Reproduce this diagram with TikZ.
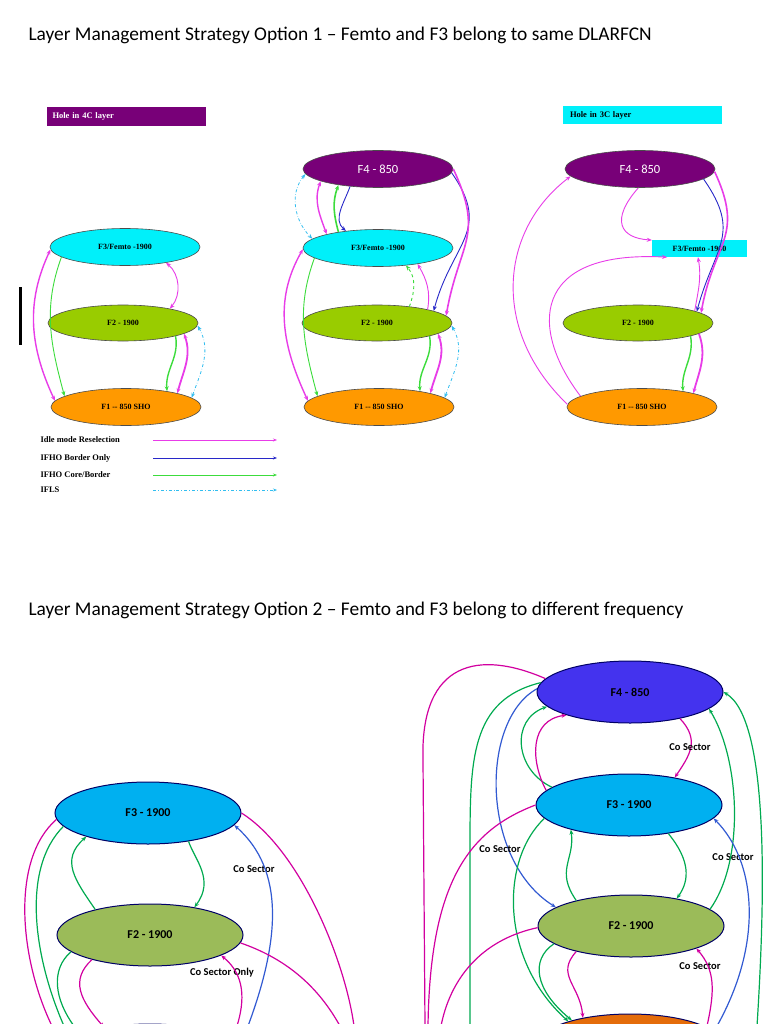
\documentclass[tikz,border=0pt]{standalone}
\usepackage{fontspec}
\setmainfont{Carlito}
\newfontfamily\serifa{Liberation Serif}
\usetikzlibrary{arrows.meta,shapes.geometric}
\definecolor{tmag}{RGB}{232,60,232}
\definecolor{tgrn}{RGB}{60,220,60}
\definecolor{tblu}{RGB}{40,40,200}
\definecolor{tcya}{RGB}{50,190,240}
\definecolor{bmag}{RGB}{210,0,160}
\definecolor{bgrn}{RGB}{0,170,80}
\definecolor{bblu}{RGB}{50,90,210}
\definecolor{purp}{RGB}{120,0,120}
\definecolor{cyanf}{RGB}{0,240,250}
\definecolor{limef}{RGB}{153,204,0}
\definecolor{orgf}{RGB}{255,153,0}
\definecolor{skyf}{RGB}{0,176,240}
\definecolor{oliv}{RGB}{155,187,89}
\definecolor{violf}{RGB}{68,51,238}
\definecolor{orgb}{RGB}{228,108,10}
\tikzset{
  tell/.style={ellipse,draw=black!70,line width=0.6pt,minimum width=150pt,minimum height=37pt,inner sep=0pt,font=\serifa\bfseries\fontsize{8}{9}\selectfont},
  bell/.style={ellipse,draw=blue!40!black,line width=1pt,minimum width=186pt,minimum height=62pt,inner sep=0pt,font=\bfseries\fontsize{12}{14}\selectfont},
  ti/.style={-{Stealth[length=5pt,width=4pt]},line width=0.9pt},
  tb/.style={{Stealth[length=5pt,width=4pt]}-{Stealth[length=5pt,width=4pt]},line width=1.4pt},
  bi/.style={-{Stealth[length=5pt,width=4pt]},line width=1.2pt},
  lab/.style={font=\bfseries\fontsize{10.5}{12}\selectfont},
  dd/.style={dash dot,line width=0.8pt},
  lgt/.style={anchor=west,font=\serifa\bfseries\fontsize{8.5}{9}\selectfont},
  lgl/.style={line width=0.8pt,-{Stealth[length=4pt]}},
  f4t/.style={text=white,font=\fontsize{12.5}{14}\selectfont}
}
\begin{document}
\begin{tikzpicture}[x=1pt,y=-1pt]
\useasboundingbox (0,0) rectangle (768,1024);
\clip (0,0) rectangle (768,1024);
\fill[white] (0,0) rectangle (768,1024);
\node[anchor=west,font=\fontsize{19.4}{22}\selectfont] (t1) at (25,35) {Layer Management Strategy Option 1 -- Femto and F3 belong to same DLARFCN};
\node[anchor=west,font=\fontsize{19.4}{22}\selectfont] (t2) at (25,610) {Layer Management Strategy Option 2 -- Femto and F3 belong to different frequency};
% ---------- top left
\node[fill=purp,minimum width=159pt,minimum height=19pt,inner sep=0pt,text=white,font=\serifa\bfseries\fontsize{8.5}{9}\selectfont,text width=148pt] (h4) at (126.5,116.5) {Hole in 4C layer};
\fill[black] (19,287) rectangle (22,345);
\node[tell,fill=cyanf] (f3a) at (125,247) {F3/Femto -1900};
\node[tell,fill=limef,minimum height=36pt] (f2a) at (123,323) {F2 - 1900};
\node[tell,fill=orgf] (f1a) at (126,407) {F1 -- 850 SHO};
\draw[tb,tmag] (f1a.175) to[out=115,in=245] (f3a.182);
\draw[ti,tgrn] (f3a.189) to[out=250,in=105] (f1a.170);
\draw[tb,tmag,line width=0.9pt] (f3a.-21) to[out=-40,in=50] (f2a.17);
\draw[ti,tgrn,line width=1.4pt] (f2a.-14) to[out=-80,in=95] (f1a.21);
\draw[tb,tmag,line width=1.8pt] (f2a.-10) to[out=-70,in=75] (f1a.15);
\draw[tcya,dd,{Stealth[length=5pt]}-{Stealth[length=5pt]}] (f2a.-2) to[out=-60,in=70] (f1a.8);
% legend
\node[lgt] (lg1) at (37,440) {Idle mode Reselection};
\node[lgt] (lg2) at (37,458) {IFHO Border Only};
\node[lgt] (lg3) at (37,475) {IFHO Core/Border};
\node[lgt] (lg4) at (37,490) {IFLS};
\coordinate (la1) at (153,440); \coordinate (lb1) at (277,440);
\coordinate (la2) at (153,458); \coordinate (lb2) at (277,458);
\coordinate (la3) at (153,475); \coordinate (lb3) at (277,475);
\coordinate (la4) at (153,490); \coordinate (lb4) at (277,490);
\draw[lgl,tmag] (la1) -- (lb1);
\draw[lgl,tblu] (la2) -- (lb2);
\draw[lgl,tgrn] (la3) -- (lb3);
\draw[lgl,tcya,dash dot] (la4) -- (lb4);
% ---------- top middle
\node[tell,fill=purp,f4t] (f4b) at (378,169) {F4 - 850};
\node[tell,fill=cyanf] (f3b) at (378,248) {F3/Femto -1900};
\node[tell,fill=limef,minimum height=36pt] (f2b) at (377,323) {F2 - 1900};
\node[tell,fill=orgf] (f1b) at (379,407) {F1 -- 850 SHO};
\draw[tcya,dd,{Stealth[length=5pt]}-{Stealth[length=5pt]}] (f4b.184) to[out=230,in=135] (f3b.172);
\draw[tb,tmag] (f4b.192) to[out=250,in=110] (f3b.165);
\draw[ti,tgrn,line width=1.6pt] (f3b.158) to[out=105,in=250] (f4b.202);
\draw[ti,tblu] (f4b.212) to[out=250,in=140] (f3b.152);
\draw[ti,tblu] (f4b.-3) to[out=-55,in=75,looseness=1.3] (f2b.12);
\draw[ti,tmag,line width=1.6pt] (f4b.0) to[out=-65,in=80,looseness=1.3] (f2b.6);
\draw[ti,tgrn,dashed] (f2b.27) to[out=70,in=-50] (f3b.-32);
\draw[ti,tmag] (f2b.15) to[out=80,in=-60] (f3b.-22);
\draw[tb,tmag] (f3b.181) to[out=240,in=115] (f1b.175);
\draw[ti,tgrn] (f3b.189) to[out=250,in=105] (f1b.170);
\draw[ti,tgrn,line width=1.4pt] (f2b.-14) to[out=-80,in=95] (f1b.21);
\draw[tb,tmag,line width=1.8pt] (f2b.-10) to[out=-70,in=75] (f1b.15);
\draw[tcya,dd,{Stealth[length=5pt]}-{Stealth[length=5pt]}] (f2b.-2) to[out=-60,in=70] (f1b.8);
% ---------- top right
\node[fill=cyanf,minimum width=159pt,minimum height=18pt,inner sep=0pt,font=\serifa\bfseries\fontsize{8.5}{9}\selectfont,text width=145pt] (h3) at (642.5,115) {Hole in 3C layer};
\node[tell,fill=purp,f4t] (f4c) at (640,169) {F4 - 850};
\node[fill=cyanf,minimum width=95pt,minimum height=17pt,inner sep=0pt,font=\serifa\bfseries\fontsize{8}{9}\selectfont] (f3c) at (699.5,248.5) {F3/Femto -1900};
\node[tell,fill=limef,minimum height=36pt] (f2c) at (638,323) {F2 - 1900};
\node[tell,fill=orgf] (f1c) at (642,407) {F1 -- 850 SHO};
\draw[ti,tmag] (f1c.178) .. controls (490,330) and (500,230) .. (f4c.186);
\draw[ti,tmag] (f1c.170) .. controls (530,330) and (530,250) .. (f3c.195);
\draw[ti,tmag] (f4c.-95) .. controls (610,220) and (620,238) .. (f3c.170);
\draw[ti,tblu] (f4c.-9) to[out=-55,in=75,looseness=1.3] (f2c.11);
\draw[ti,tmag,line width=1.6pt] (f4c.-2) to[out=-65,in=80,looseness=1.3] (f2c.9);
\draw[ti,tmag] (f2c.12) to[out=80,in=-80] (f3c.-100);
\draw[ti,tgrn,line width=1.4pt] (f2c.-14) to[out=-80,in=95] (f1c.21);
\draw[ti,tmag,line width=1.8pt] (f2c.-10) to[out=-70,in=75] (f1c.15);
% ---------- bottom left
\node[bell,fill=skyf] (f3d) at (148,813) {F3 - 1900};
\node[bell,fill=oliv] (f2d) at (150,935) {F2 - 1900};
\node[bell,fill=bblu!70] (f1d) at (150,1055) {};
\coordinate (e1) at (52,1026); \coordinate (e2) at (64,1026); \coordinate (e3) at (74,1026);
\coordinate (e4) at (248,1026); \coordinate (e5) at (237,1026); \coordinate (e6) at (340,1026); \coordinate (e7) at (354,1026);
\draw[bi,bmag,-] (f3d.184) .. controls (10,860) and (20,960) .. (e1);
\draw[bi,bgrn,-] (f3d.189) .. controls (20,870) and (35,960) .. (e2);
\draw[bi,bgrn] (f2d.155) .. controls (75,880) and (60,860) .. (f3d.201);
\draw[bi,bgrn] (f3d.-35) .. controls (195,860) and (215,880) .. (f2d.32);
\node[lab] (cs1) at (254,869) {Co Sector};
\draw[bi,bblu] (e4) .. controls (280,940) and (285,870) .. (f3d.-8);
\draw[bi,bmag,-] (f3d.0) .. controls (300,850) and (345,960) .. (e7);
\draw[bi,bmag,-] (f2d.-5) .. controls (290,960) and (320,990) .. (e6);
\draw[bi,bgrn,-] (f2d.192) .. controls (50,970) and (55,1000) .. (e3);
\draw[bi,bmag] (f2d.203) .. controls (70,980) and (80,1000) .. (f1d.149);
\node[lab] (cs2) at (222,973) {Co Sector Only};
\draw[bi,bmag] (e5) .. controls (245,1000) and (245,975) .. (f2d.-16);
% ---------- bottom right
\node[bell,fill=violf] (f4e) at (630,692) {F4 - 850};
\node[bell,fill=skyf] (f3e) at (629,805) {F3 - 1900};
\node[bell,fill=oliv] (f2e) at (631,926) {F2 - 1900};
\node[bell,fill=orgb] (f1e) at (630,1045) {};
\coordinate (r1) at (425,1026); \coordinate (r2) at (470,1026); \coordinate (r3) at (428,1026);
\coordinate (r4) at (757,1026); \coordinate (r5) at (717,1026); \coordinate (r6) at (707,1026); \coordinate (r7) at (441,1026);
\draw[bi,bmag,-] (f4e.171) .. controls (480,650) and (420,660) .. (423,760) -- (r1);
\draw[bi,bgrn,-] (f4e.174) .. controls (470,700) and (470,760) .. (470,850) -- (r2);
\draw[bi,bblu] (f4e.178) .. controls (480,720) and (480,860) .. (f2e.166);
\draw[bi,bgrn] (f3e.167) .. controls (515,770) and (510,720) .. (f4e.190);
\draw[bi,bmag] (f3e.170) .. controls (530,760) and (530,720) .. (f4e.200);
\draw[bi,bmag] (f4e.-28) .. controls (700,740) and (690,755) .. (f3e.31);
\node[lab] (cs3) at (690,747) {Co Sector};
\draw[bi,bmag,-] (f3e.180) .. controls (470,830) and (430,880) .. (r3);
\draw[bi,bgrn] (f3e.189) .. controls (500,860) and (500,960) .. (f1e.159);
\node[lab] (cs4) at (500,849) {Co Sector};
\draw[bi,bgrn] (f2e.155) .. controls (555,870) and (575,860) .. (f3e.203);
\draw[bi,bgrn] (f3e.-36) .. controls (690,860) and (690,880) .. (f2e.31);
\node[lab] (cs5) at (733,857) {Co Sector};
\draw[bi,bgrn] (f2e.12) .. controls (745,860) and (740,760) .. (f4e.-12);
\draw[bi,bgrn] (r4) .. controls (765,900) and (770,720) .. (f4e.0);
\draw[bi,bblu] (r5) .. controls (765,940) and (755,860) .. (f3e.-9);
\node[lab] (cs6) at (700,966) {Co Sector};
\draw[bi,bmag] (r6) .. controls (715,990) and (715,970) .. (f2e.-19);
\draw[bi,bgrn] (f2e.193) .. controls (530,960) and (535,990) .. (f1e.157);
\draw[bi,bmag] (f2e.205) .. controls (555,975) and (580,985) .. (f1e.150);
\draw[bi,bmag,-] (f2e.181) .. controls (480,940) and (450,980) .. (r7);
\end{tikzpicture}
\end{document}
